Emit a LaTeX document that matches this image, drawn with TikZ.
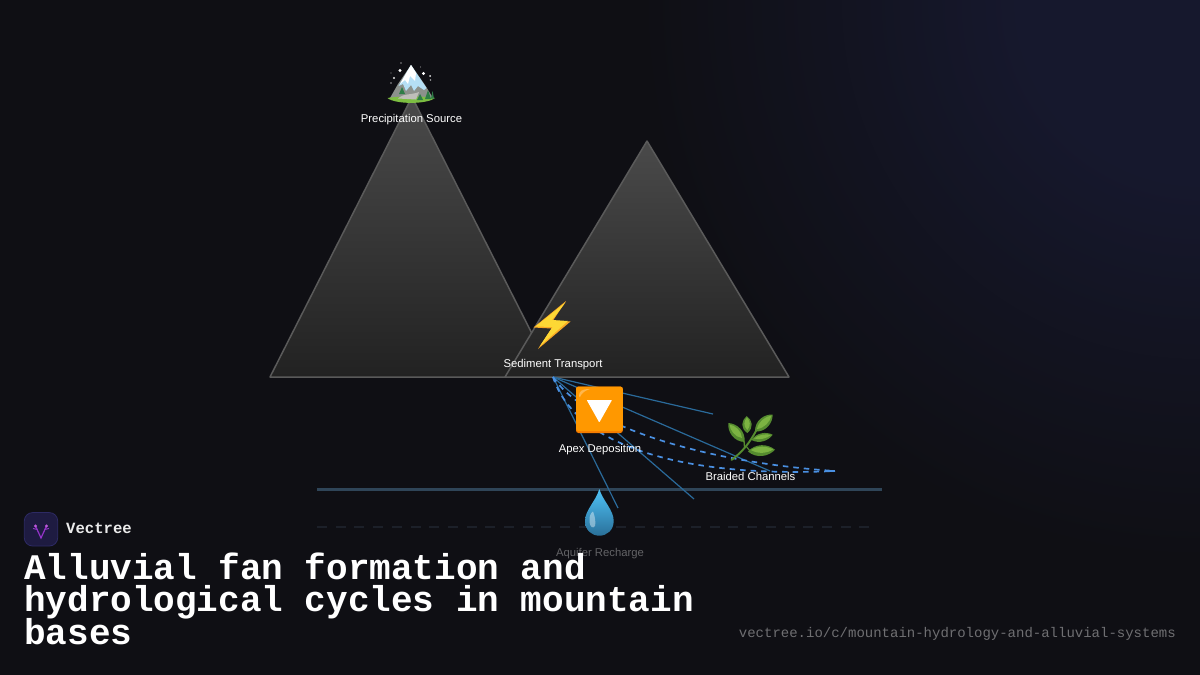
\documentclass[tikz,border=0pt]{standalone}
\usepackage{fontspec}
\setmainfont{Liberation Sans}
\newfontfamily\monof{Liberation Mono}
\definecolor{bgc}{HTML}{0F0F14}
\definecolor{navy}{HTML}{16182D}
\definecolor{flowc}{HTML}{2A6A9A}
\definecolor{dashc}{HTML}{4A90E2}
\definecolor{edgec}{HTML}{5A5A5A}
\definecolor{mtop}{HTML}{4A4A4A}
\definecolor{mbot}{HTML}{222222}
\definecolor{floorc}{HTML}{2F4558}
\definecolor{aquc}{HTML}{1C2029}
\definecolor{rockc}{HTML}{8C918C}
\definecolor{snowb}{HTML}{B5DFF5}
\definecolor{grassc}{HTML}{7DBE42}
\definecolor{pavec}{HTML}{BEBEB9}
\definecolor{pinec}{HTML}{2E7D46}
\definecolor{boltd}{HTML}{F9A825}
\definecolor{boltl}{HTML}{FDD835}
\definecolor{orangea}{HTML}{FF9800}
\definecolor{orangeb}{HTML}{F57C00}
\definecolor{orangec}{HTML}{FFB74D}
\definecolor{leafd}{HTML}{558B2F}
\definecolor{leafl}{HTML}{7CB342}
\definecolor{dropt}{HTML}{4FC3F7}
\definecolor{dropb}{HTML}{2A7099}
\definecolor{logof}{HTML}{1E1B41}
\definecolor{logoe}{HTML}{2D2A64}
\definecolor{logov}{HTML}{9333C8}
\definecolor{logod}{HTML}{BE5ADC}
\pgfdeclareradialshading{corner}{\pgfpoint{0bp}{0bp}}{color(0bp)=(navy); color(8bp)=(navy); color(16bp)=(navy!50!bgc); color(25bp)=(bgc); color(50bp)=(bgc)}
\tikzset{
  lab/.style={font=\fontsize{11.3}{14}\selectfont, text=white, inner sep=0pt, anchor=base},
  mount/.style={draw=edgec, line width=1.5pt, line join=round, top color=mtop, bottom color=mbot},
  flowline/.style={draw=flowc, line width=1.2pt},
  flowdash/.style={draw=dashc, line width=1.7pt, dash pattern=on 5.5pt off 5pt},
  titleline/.style={font=\monof\bfseries\fontsize{36}{36}\selectfont, text=white, inner sep=0pt, anchor=base west},
}
\newcommand{\myleaf}[6]{% bx by tx ty width colour
  \pgfmathsetmacro{\dx}{#3-#1}\pgfmathsetmacro{\dy}{#4-#2}
  \pgfmathsetmacro{\len}{veclen(\dx,\dy)}
  \pgfmathsetmacro{\px}{-\dy/\len*#5}\pgfmathsetmacro{\py}{\dx/\len*#5}
  \fill[#6] (#1,#2) .. controls ({#1+.3*\dx+\px},{#2+.3*\dy+\py}) and ({#1+.75*\dx+.8*\px},{#2+.75*\dy+.8*\py}) .. (#3,#4)
    .. controls ({#1+.75*\dx-.8*\px},{#2+.75*\dy-.8*\py}) and ({#1+.3*\dx-\px},{#2+.3*\dy-\py}) .. (#1,#2) -- cycle;
}
\begin{document}
\begin{tikzpicture}[x=1pt,y=-1pt]
\useasboundingbox (0,0) rectangle (1200,675);
\fill[bgc] (0,0) rectangle (1200,675);
\begin{scope}
\clip (0,0) rectangle (1200,675);
\path[shading=corner] (1200,0) circle (560);
\end{scope}

% mountains
\path[mount] (412,97) -- (554,377) -- (270,377) -- cycle;
\path[mount] (647,141) -- (789,377) -- (505,377) -- cycle;

% ground lines
\coordinate (floorL) at (317,489.5); \coordinate (floorR) at (882,489.5);
\coordinate (aquL) at (317,527); \coordinate (aquR) at (875,527);
\draw[floorc, line width=2.4pt] (floorL) -- (floorR);
\draw[aquc, line width=1.4pt, dash pattern=on 10pt off 8.7pt] (aquL) -- (aquR);

% connectors
\coordinate (apex) at (553,377);
\coordinate (e1) at (713,414);
\coordinate (e2) at (770,471);
\coordinate (e3) at (694,499);
\coordinate (e4) at (618,508);
\coordinate (e5) at (835,471);
\coordinate (e5b) at (825,471);
\draw[flowline] (apex) -- (e1);
\draw[flowline] (apex) -- (e2);
\draw[flowline] (apex) -- (e3);
\draw[flowline] (apex) -- (e4);
\draw[flowdash] (apex) .. controls (585,425) and (700,462) .. (e5);
\draw[flowdash] (apex) .. controls (575,445) and (680,478) .. (e5);
\draw[dashc, line width=1.7pt] (e5b) -- (e5);

% mountain emoji
\fill[rockc] (390,98) -- (398,84) -- (411,65) -- (425,85) -- (433,98) -- cycle;
\fill[snowb] (411,65) -- (398.5,86) -- (403,84) -- (406,91) -- (411,85) -- (414,91) -- (418,86) -- (424,90) -- (426.5,88) -- cycle;
\fill[white] (411,65) -- (400,84) -- (405,80) -- (408,84) -- (410,76) -- (415,81) -- (416,73) -- cycle;
\fill[grassc] (387.5,98) .. controls (395,104.5) and (427,104.5) .. (435,98) .. controls (425,96) and (398,96) .. (387.5,98) -- cycle;
\fill[pavec] (398,98.5) .. controls (402,93.5) and (412,95) .. (419,92) -- (416,99.5) -- cycle;
\fill[pinec] (417,100) -- (420,94) -- (423,100) -- cycle;
\fill[pinec] (425,99) -- (428,90) -- (431,99) -- cycle;
\fill[pinec] (431,98.5) -- (432.5,91) -- (434,98.5) -- cycle;
\fill[pinec] (399,94) -- (402,87) -- (405,94) -- cycle;
\foreach \sx/\sy/\sr/\so in {400/70.5/1.6/1,423.5/73.5/1.6/1,394/78/1.1/.9,430/76/1/.9,430.5/80/.8/.6,391/83/.8/.6,391/73/.7/.5,401/63/.8/.5,420.5/67/.7/.5}
  \fill[white,opacity=\so] (\sx,\sy) circle (\sr);

% lightning
\fill[boltd, line join=round] (566,301) -- (533.5,327.5) -- (551.5,328.5) -- (538,349) -- (570.5,321.5) -- (553,320.5) -- cycle;
\fill[boltl] (565.5,302.5) -- (535.5,326.5) -- (552.5,327) -- (539.5,346.5) -- (568,321) -- (552,320) -- cycle;

% orange square
\fill[orangeb, rounded corners=2.5pt] (576,386.5) rectangle (622.8,433);
\fill[orangea, rounded corners=2.5pt] (576,386.5) rectangle (622.8,431);
\fill[orangec] (579,396) .. controls (579,391) and (582,389) .. (590,389) .. controls (584,391) and (582,393) .. (580,397) -- cycle;
\fill[white, rounded corners=.6pt] (586.7,400) -- (612,400) -- (599.3,422.5) -- cycle;

% herb
\draw[leafd, line width=1.9pt, line cap=round] (731.5,460) .. controls (742,452) and (749,444) .. (756.5,430);
\draw[leafd, line width=1.3pt] (744.5,447) -- (744,441);
\myleaf{755}{431.5}{772.7}{414.5}{8}{leafd}
\myleaf{747.3}{433}{746.7}{416}{7}{leafd}
\myleaf{744.5}{442}{728.3}{423}{8}{leafd}
\myleaf{751.5}{440}{772.7}{434.7}{6}{leafd}
\myleaf{748}{451.5}{775}{449.7}{8}{leafd}
\myleaf{757}{429}{771.5}{415.5}{4.5}{leafl}
\myleaf{747.3}{430}{746.9}{417.5}{4}{leafl}
\myleaf{742}{438}{729.5}{424.5}{4.5}{leafl}
\myleaf{754}{438.5}{771}{435}{3}{leafl}
\myleaf{751}{450}{773}{449.5}{4.5}{leafl}
\draw[leafd, line width=1.1pt] (746,446) -- (750,451);

% drop
\shade[top color=dropt, bottom color=dropb] (599.3,489) .. controls (603,501) and (613.7,510) .. (613.7,521) .. controls (613.7,530) and (607,535.7) .. (599.3,535.7) .. controls (591.5,535.7) and (585,530) .. (585,521) .. controls (585,510) and (596,501) .. (599.3,489) -- cycle;
\fill[white,opacity=.4] (589.5,522) .. controls (589,516) and (591,512.5) .. (593,511.5) .. controls (595,516) and (596,523) .. (595,526) .. controls (593,529) and (590,527) .. (589.5,522) -- cycle;

% labels
\node[lab] (precip) at (411.5,122) {Precipitation Source};
\node[lab] (sediment) at (553,367) {Sediment Transport};
\node[lab] (apexlab) at (600,452) {Apex Deposition};
\node[lab] (braided) at (750.5,480) {Braided Channels};
\node[lab, text=white!35!bgc] (aquifer) at (600,556) {Aquifer Recharge};

% logo
\node[draw=logoe, fill=logof, line width=.8pt, rounded corners=8.5pt, minimum width=33.5pt, minimum height=33.5pt, inner sep=0pt] (logo) at (41,529.3) {};
\coordinate (vb) at (41,538); \coordinate (vl) at (35.5,526); \coordinate (vr) at (46.5,526);
\draw[logov, line width=1.2pt] (vl) -- (vb) -- (vr);
\draw[logov, line width=1pt] (33,528.5) -- (37.5,529.5) (49,528.5) -- (44.5,529.5);
\fill[logod] (vl) circle (1.7) (vr) circle (1.7);

\node[font=\monof\bfseries\fontsize{15.6}{18}\selectfont, text=white!92!black, inner sep=0pt, anchor=base west] (brand) at (66,533) {Vectree};
\node[titleline] (title1) at (24,579.5) {Alluvial fan formation and};
\node[titleline] (title2) at (24,611.9) {hydrological cycles in mountain};
\node[titleline] (title3) at (24,644.3) {bases};
\node[font=\monof\fontsize{14}{16}\selectfont, text=white!40!bgc, inner sep=0pt, anchor=base east] (url) at (1176,637) {vectree.io/c/mountain-hydrology-and-alluvial-systems};
\end{tikzpicture}
\end{document}
